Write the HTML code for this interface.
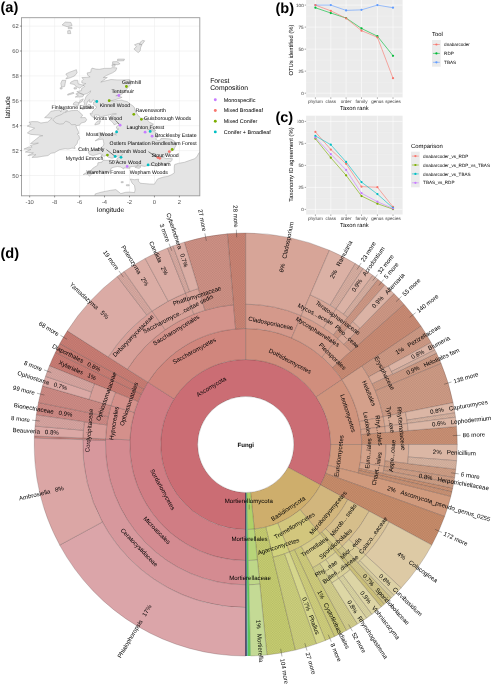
<!DOCTYPE html>
<html lang="en"><head><meta charset="utf-8"><title>Figure</title>
<style>html,body{margin:0;padding:0;background:#fff}svg{display:block}text{white-space:pre;text-rendering:geometricPrecision}</style></head><body>
<svg width="493" height="685" viewBox="0 0 493 685">
<defs><pattern id="hat" width="2.4" height="2.4" patternUnits="userSpaceOnUse"><path d="M-.6 .6L.6 -.6M0 2.4L2.4 0M1.8 3L3 1.8M-.6 1.8L.6 3M0 0L2.4 2.4M1.8 -.6L3 .6" stroke="#000" stroke-opacity=".15" stroke-width=".32"/></pattern></defs>
<rect width="493" height="685" fill="#fff"/>
<g id="map">
<clipPath id="mc"><rect x="21.5" y="17.7" width="178.3" height="178.1"/></clipPath>
<rect x="21.5" y="17.7" width="178.3" height="178.1" fill="#fff"/>
<path d="M21.5 175.50H199.8M21.5 150.60H199.8M21.5 125.70H199.8M21.5 100.80H199.8M21.5 75.90H199.8M21.5 51.00H199.8M21.5 26.10H199.8M29.65 17.7V195.8M54.61 17.7V195.8M79.57 17.7V195.8M104.53 17.7V195.8M129.49 17.7V195.8M154.45 17.7V195.8M179.41 17.7V195.8" stroke="#ebebeb" stroke-width=".55" fill="none"/>
<path clip-path="url(#mc)" d="M83.2 174.6L86.1 172.8L91.1 170.3L92.8 168.3L97.7 165.2L97.9 162.8L102.0 162.1L103.0 160.4L111.1 160.3L116.4 160.6L117.3 158.3L120.8 156.2L122.6 154.6L120.1 155.8L117.0 156.3L114.9 157.3L112.0 158.3L108.3 157.2L106.4 155.3L104.5 156.1L100.8 156.1L102.5 154.6L99.5 153.7L95.8 154.8L92.9 155.6L89.3 154.3L88.3 151.8L92.3 150.4L96.3 149.1L100.8 147.9L103.5 145.5L103.9 143.8L103.5 141.6L103.2 139.9L102.9 139.1L99.3 139.6L95.2 140.8L98.0 138.9L100.3 137.2L99.5 136.3L96.4 134.3L97.4 133.2L100.4 132.9L103.9 134.3L103.0 135.3L106.3 133.9L108.3 134.5L110.9 134.2L113.0 133.8L116.4 135.0L114.5 133.2L117.0 132.9L115.8 131.3L117.0 129.7L118.9 129.1L116.4 128.2L116.6 126.6L119.3 124.5L117.6 123.5L114.0 124.7L113.3 123.2L111.4 121.3L109.1 119.4L109.9 117.5L112.0 114.9L116.4 113.9L113.8 113.5L109.5 114.9L103.9 116.0L99.7 117.2L98.9 115.1L94.5 115.0L93.8 117.9L90.6 115.2L90.1 113.2L92.0 114.1L92.0 112.0L93.8 110.3L96.5 107.5L95.8 106.0L93.3 104.5L93.7 102.0L97.0 101.5L94.3 100.8L93.3 99.6L92.0 101.4L91.4 102.4L88.9 101.8L89.6 99.6L87.7 101.0L86.9 103.3L85.8 106.4L85.2 108.5L82.3 109.5L82.9 107.0L84.6 103.9L83.9 101.7L85.1 99.3L85.8 97.1L87.1 95.2L89.6 93.3L90.8 90.8L87.1 93.6L83.3 94.6L79.6 93.1L76.8 91.7L81.4 90.6L81.7 88.4L84.6 86.5L83.2 84.9L85.8 83.6L81.9 83.0L81.8 80.9L83.4 79.3L81.9 77.6L86.4 77.4L90.1 76.9L87.7 75.3L87.1 72.9L90.8 72.2L91.1 69.7L92.0 68.1L95.8 69.1L99.3 69.3L104.3 68.4L110.5 68.3L112.4 67.6L116.8 67.9L115.8 70.7L112.6 72.8L106.4 75.5L103.3 77.5L107.3 77.5L103.9 79.9L100.8 82.1L104.5 81.1L110.9 79.5L117.0 79.9L123.0 79.9L129.5 79.6L132.0 81.5L131.4 84.0L128.6 86.6L127.0 88.8L123.9 92.0L122.3 93.8L120.3 94.9L115.8 95.8L118.5 95.3L119.6 96.6L122.1 97.3L119.3 98.4L115.1 99.7L112.0 100.6L108.0 100.2L112.0 100.9L114.9 101.0L118.3 100.4L121.8 100.1L123.9 100.9L127.7 101.8L129.5 103.7L132.0 105.2L134.2 107.0L134.7 109.5L135.7 111.6L136.7 113.2L137.9 115.1L139.7 117.1L140.5 117.9L144.5 118.7L146.8 119.6L149.5 122.2L153.5 124.2L151.8 125.1L152.5 127.6L155.9 130.7L153.8 130.3L151.0 129.1L147.6 129.4L152.0 130.4L154.4 131.6L157.7 133.9L158.7 136.4L155.7 138.8L157.2 140.4L159.7 140.4L160.9 138.6L165.1 138.5L170.7 139.0L174.7 141.3L176.2 143.1L176.4 144.7L174.8 147.5L174.2 149.6L171.3 151.1L169.4 151.2L170.5 152.5L168.4 153.3L165.7 153.6L166.3 155.3L163.8 156.5L160.1 157.1L156.9 157.1L160.1 157.4L163.4 157.4L166.3 158.6L171.7 158.2L172.4 158.7L171.7 160.6L171.0 161.6L168.2 162.2L166.6 164.2L163.8 163.9L160.7 165.0L157.4 166.3L152.7 165.3L148.2 165.5L144.6 166.4L140.8 165.7L137.6 164.5L138.2 165.5L135.2 166.2L132.6 166.5L129.7 166.8L130.1 168.2L128.7 168.3L123.9 167.8L123.7 169.0L120.8 167.0L117.6 166.5L113.9 167.2L111.4 168.0L110.5 170.0L109.8 171.4L109.0 172.8L106.4 172.8L102.8 171.1L98.3 171.4L94.8 172.4L91.7 174.0L89.6 176.0L87.7 174.5L85.4 174.1ZM134.9 167.2L138.2 165.9L141.0 166.8L139.7 168.0L138.2 168.3ZM62.5 108.5L67.7 110.4L64.6 112.5L68.3 111.3L71.5 110.6L77.7 110.4L79.8 112.6L82.7 115.1L80.8 117.7L85.2 117.5L86.7 119.8L85.2 122.0L81.1 123.0L79.6 125.2L75.8 125.7L76.8 128.2L78.3 131.3L78.8 133.4L77.1 134.0L78.9 135.7L79.6 138.6L77.8 140.8L77.1 143.6L74.6 146.5L75.1 148.5L72.1 148.1L68.0 149.1L65.2 148.7L59.6 149.7L56.5 151.5L54.6 152.7L50.9 153.3L48.0 155.6L42.8 156.3L37.5 157.2L31.9 157.4L35.9 154.6L27.8 155.6L33.4 152.8L25.3 152.1L30.9 149.4L23.9 149.1L28.4 147.1L32.1 147.2L30.4 145.5L38.4 143.1L30.5 143.6L36.3 139.0L39.6 136.3L42.8 135.7L38.4 135.0L30.9 134.4L27.4 132.9L30.3 130.7L34.6 128.2L27.2 126.1L30.9 124.2L29.0 122.2L32.1 121.6L37.8 121.7L40.9 123.0L47.7 122.0L52.1 118.2L44.6 117.6L47.7 115.1L50.9 111.3L55.2 110.5L59.6 109.9L60.8 112.0L61.5 109.5ZM94.8 125.0L99.5 123.8L100.5 120.7L97.7 121.0L95.5 123.2ZM87.7 107.6L90.8 107.6L90.8 105.2L88.9 104.3L87.3 105.5ZM73.3 104.8L78.3 105.5L78.9 102.7L75.8 101.7L73.6 103.0ZM78.9 103.3L82.1 101.4L83.3 98.9L80.2 100.2ZM75.2 97.1L82.7 96.8L83.9 94.8L78.9 92.7L75.8 94.0L78.3 95.2ZM79.6 88.1L83.9 85.2L78.3 84.0L77.7 80.3L74.6 80.3L70.8 82.1L70.2 83.6L74.6 84.6L75.8 86.5ZM65.8 79.0L70.2 77.8L74.6 75.9L77.1 72.8L76.4 69.7L69.6 72.2L65.8 74.0L67.7 76.5ZM61.5 87.1L64.6 86.5L65.2 83.4L65.8 80.3L62.1 80.3L60.8 83.4ZM60.2 89.0L62.1 89.0L62.1 87.7L60.2 87.7ZM74.0 89.0L76.4 89.0L76.4 87.7L74.0 87.7ZM67.7 95.2L74.0 93.3L73.3 92.3L67.7 94.2ZM112.6 64.1L117.6 64.7L120.1 63.8L117.0 61.6L112.6 61.8ZM112.0 66.2L115.1 66.2L115.1 64.4L112.0 64.7ZM117.6 61.0L123.9 60.7L124.5 59.1L117.6 59.1ZM133.9 49.1L138.2 52.6L140.1 51.0L140.7 47.3L142.0 44.8L138.2 43.3L134.5 44.8L136.4 46.6ZM139.5 44.8L142.0 44.5L144.7 40.8L142.6 40.4L140.1 42.3ZM62.1 24.9L67.1 26.7L72.1 25.5L70.8 22.4L65.2 22.1ZM67.7 33.6L70.8 33.6L70.2 30.5L67.7 30.8ZM68.3 28.8L72.1 28.6L71.8 27.3L68.3 27.3ZM126.4 185.8L129.2 185.8L129.2 184.7L126.4 184.7ZM121.1 182.7L123.2 182.7L123.2 181.6L121.1 181.7ZM89.6 200.4L94.8 196.0L95.2 193.9L100.8 192.3L105.2 191.4L110.1 190.4L115.8 189.6L120.8 193.6L125.7 192.3L129.5 192.1L134.5 192.6L135.1 189.8L134.5 185.5L132.0 183.0L130.2 179.0L134.5 179.7L138.7 179.2L138.2 181.1L140.7 183.3L149.5 184.0L154.4 184.2L155.7 182.0L157.6 179.0L163.2 177.1L167.9 176.4L171.9 174.5L174.4 172.8L174.2 168.7L174.4 165.8L174.7 164.5L178.2 163.4L184.4 162.3L190.6 160.1L194.4 158.8L196.9 156.8L198.8 153.1L201.2 150.6L206.9 148.1L206.9 206.6L89.6 206.6Z" fill="#e4e4e4" stroke="#9a9a9a" stroke-width=".45" stroke-linejoin="round"/>
<path clip-path="url(#mc)" d="M64.0 112.6L61.5 114.5L55.9 116.7L52.7 119.8L55.9 123.0L59.6 124.1L63.3 123.8L65.8 121.0L69.6 122.6L71.5 124.8L75.8 124.5" fill="none" stroke="#9a9a9a" stroke-width=".45" stroke-linejoin="round"/>
<line x1="115.5" y1="120.4" x2="119.9" y2="124.8" stroke="#111" stroke-width=".5"/>
<line x1="106.4" y1="149.6" x2="114.8" y2="156.1" stroke="#111" stroke-width=".5"/>
<line x1="148.4" y1="151.7" x2="157.2" y2="157.3" stroke="#111" stroke-width=".5"/>
<circle cx="126.4" cy="86.5" r="1.4" fill="#7CAE00"/>
<circle cx="118.8" cy="95.5" r="1.4" fill="#C77CFF"/>
<circle cx="96.8" cy="101.5" r="1.4" fill="#00BFC4"/>
<circle cx="109.2" cy="100.7" r="1.4" fill="#7CAE00"/>
<circle cx="133.8" cy="114.3" r="1.4" fill="#7CAE00"/>
<circle cx="141.4" cy="119.3" r="1.4" fill="#7CAE00"/>
<circle cx="120.1" cy="125.2" r="1.4" fill="#C77CFF"/>
<circle cx="116.6" cy="131.9" r="1.4" fill="#00BFC4"/>
<circle cx="145.1" cy="132.2" r="1.4" fill="#C77CFF"/>
<circle cx="150.2" cy="131.4" r="1.4" fill="#00BFC4"/>
<circle cx="152.1" cy="136.2" r="1.4" fill="#C77CFF"/>
<circle cx="172.2" cy="149.5" r="1.4" fill="#7CAE00"/>
<circle cx="169.3" cy="151.6" r="1.4" fill="#F8766D"/>
<circle cx="157.9" cy="157.6" r="1.4" fill="#F8766D"/>
<circle cx="159.8" cy="158.3" r="1.4" fill="#F8766D"/>
<circle cx="107.4" cy="155.1" r="1.4" fill="#7CAE00"/>
<circle cx="115.2" cy="156.4" r="1.4" fill="#00BFC4"/>
<circle cx="121.0" cy="157.3" r="1.4" fill="#00BFC4"/>
<circle cx="148.1" cy="164.9" r="1.4" fill="#00BFC4"/>
<circle cx="127.2" cy="166.4" r="1.4" fill="#C77CFF"/>
<g font-family="'Liberation Sans',Arial,sans-serif" font-size="5.2" fill="#000">
<text x="122.0" y="82.4" dy=".35em">Gairnhill</text>
<text x="111.4" y="91.6" dy=".35em">Tentsmuir</text>
<text x="99.7" y="105.5" dy=".35em">Kinnell Wood</text>
<text x="51.5" y="106.8" dy=".35em">Finlaystone Estate</text>
<text x="135.6" y="109.8" dy=".35em">Ravensworth</text>
<text x="144.0" y="118.3" dy=".35em">Guisborough Woods</text>
<text x="93.9" y="118.2" dy=".35em">Knots Wood</text>
<text x="126.5" y="127.0" dy=".35em">Laughton Forest</text>
<text x="155.0" y="135.1" dy=".35em">Brocklesby Estate</text>
<text x="86.0" y="134.2" dy=".35em">Moss Wood</text>
<text x="109.6" y="143.1" dy=".35em">Ostlers Plantation</text>
<text x="151.4" y="143.1" dy=".35em">Rendlesham Forest</text>
<text x="78.2" y="149.6" dy=".35em">Cefn Mably</text>
<text x="112.8" y="151.5" dy=".35em">Darenth Wood</text>
<text x="151.4" y="155.4" dy=".35em">Stour Wood</text>
<text x="65.8" y="158.0" dy=".35em">Mynydd Emroch</text>
<text x="108.9" y="161.8" dy=".35em">50 Acre Wood</text>
<text x="151.0" y="163.8" dy=".35em">Cobham</text>
<text x="86.5" y="172.0" dy=".35em">Wareham Forest</text>
<text x="129.8" y="172.2" dy=".35em">Wepham Woods</text>
</g>
<rect x="21.5" y="17.7" width="178.3" height="178.1" fill="none" stroke="#999" stroke-width=".9"/>
<path d="M21.5 175.50h-1.6M21.5 150.60h-1.6M21.5 125.70h-1.6M21.5 100.80h-1.6M21.5 75.90h-1.6M21.5 51.00h-1.6M21.5 26.10h-1.6M29.65 195.8v1.6M54.61 195.8v1.6M79.57 195.8v1.6M104.53 195.8v1.6M129.49 195.8v1.6M154.45 195.8v1.6M179.41 195.8v1.6" stroke="#333" stroke-width=".5" fill="none"/>
<g font-family="'Liberation Sans',Arial,sans-serif" font-size="5.8" fill="#4d4d4d">
<text x="18.8" y="175.60" text-anchor="end" dy=".35em">50</text>
<text x="18.8" y="150.70" text-anchor="end" dy=".35em">52</text>
<text x="18.8" y="125.80" text-anchor="end" dy=".35em">54</text>
<text x="18.8" y="100.90" text-anchor="end" dy=".35em">56</text>
<text x="18.8" y="76.00" text-anchor="end" dy=".35em">58</text>
<text x="18.8" y="51.10" text-anchor="end" dy=".35em">60</text>
<text x="18.8" y="26.20" text-anchor="end" dy=".35em">62</text>
<text x="29.65" y="201.7" text-anchor="middle" dy=".35em">-10</text>
<text x="54.61" y="201.7" text-anchor="middle" dy=".35em">-8</text>
<text x="79.57" y="201.7" text-anchor="middle" dy=".35em">-6</text>
<text x="104.53" y="201.7" text-anchor="middle" dy=".35em">-4</text>
<text x="129.49" y="201.7" text-anchor="middle" dy=".35em">-2</text>
<text x="154.45" y="201.7" text-anchor="middle" dy=".35em">0</text>
<text x="179.41" y="201.7" text-anchor="middle" dy=".35em">2</text>
</g>
<g font-family="'Liberation Sans',Arial,sans-serif" fill="#000">
<text x="110.6" y="209.2" text-anchor="middle" font-size="6.7" dy=".35em">longitude</text>
<text transform="translate(7.5 107.3) rotate(-90)" text-anchor="middle" font-size="6.85" dy=".35em">latitude</text>
<text x="210.2" y="80.6" font-size="6.8" dy=".35em">Forest</text>
<text x="210.2" y="87.9" font-size="6.8" dy=".35em">Composition</text>
<circle cx="215.3" cy="99.8" r="1.45" fill="#C77CFF"/>
<text x="223.8" y="99.8" font-size="5.45" dy=".35em">Monospecific</text>
<circle cx="215.3" cy="110.5" r="1.45" fill="#F8766D"/>
<text x="223.8" y="110.5" font-size="5.45" dy=".35em">Mixed Broadleaf</text>
<circle cx="215.3" cy="121.2" r="1.45" fill="#7CAE00"/>
<text x="223.8" y="121.2" font-size="5.45" dy=".35em">Mixed Conifer</text>
<circle cx="215.3" cy="131.9" r="1.45" fill="#00BFC4"/>
<text x="223.8" y="131.9" font-size="5.45" dy=".35em">Conifer + Broadleaf</text>
</g></g>
<g id="charts">
<rect x="306.1" y="0.0" width="96.5" height="97.4" fill="#ebebeb"/>
<path d="M306.1 93.20H402.6M306.1 71.17H402.6M306.1 49.15H402.6M306.1 27.12H402.6M306.1 5.10H402.6M315.40 0.0V97.4M330.80 0.0V97.4M346.10 0.0V97.4M361.50 0.0V97.4M377.40 0.0V97.4M393.00 0.0V97.4" stroke="#fff" stroke-width=".55" fill="none"/>
<path d="M306.1 82.19H402.6M306.1 60.16H402.6M306.1 38.14H402.6M306.1 16.11H402.6" stroke="#f5f5f5" stroke-width=".3" fill="none"/>
<polyline points="315.40,5.10 330.80,5.10 346.10,10.39 361.50,9.86 377.40,5.10 393.00,7.74" fill="none" stroke="#619CFF" stroke-width=".62" stroke-linejoin="round"/>
<polyline points="315.40,7.74 330.80,13.03 346.10,18.05 361.50,28.45 377.40,36.20 393.00,55.76" fill="none" stroke="#00BA38" stroke-width=".62" stroke-linejoin="round"/>
<polyline points="315.40,5.10 330.80,10.83 346.10,18.31 361.50,30.65 377.40,37.26 393.00,78.22" fill="none" stroke="#F8766D" stroke-width=".62" stroke-linejoin="round"/>
<circle cx="315.40" cy="5.10" r="1.12" fill="#619CFF"/>
<circle cx="330.80" cy="5.10" r="1.12" fill="#619CFF"/>
<circle cx="346.10" cy="10.39" r="1.12" fill="#619CFF"/>
<circle cx="361.50" cy="9.86" r="1.12" fill="#619CFF"/>
<circle cx="377.40" cy="5.10" r="1.12" fill="#619CFF"/>
<circle cx="393.00" cy="7.74" r="1.12" fill="#619CFF"/>
<circle cx="315.40" cy="7.74" r="1.12" fill="#00BA38"/>
<circle cx="330.80" cy="13.03" r="1.12" fill="#00BA38"/>
<circle cx="346.10" cy="18.05" r="1.12" fill="#00BA38"/>
<circle cx="361.50" cy="28.45" r="1.12" fill="#00BA38"/>
<circle cx="377.40" cy="36.20" r="1.12" fill="#00BA38"/>
<circle cx="393.00" cy="55.76" r="1.12" fill="#00BA38"/>
<circle cx="315.40" cy="5.10" r="1.12" fill="#F8766D"/>
<circle cx="330.80" cy="10.83" r="1.12" fill="#F8766D"/>
<circle cx="346.10" cy="18.31" r="1.12" fill="#F8766D"/>
<circle cx="361.50" cy="30.65" r="1.12" fill="#F8766D"/>
<circle cx="377.40" cy="37.26" r="1.12" fill="#F8766D"/>
<circle cx="393.00" cy="78.22" r="1.12" fill="#F8766D"/>
<path d="M306.1 93.20h-1.4M306.1 71.17h-1.4M306.1 49.15h-1.4M306.1 27.12h-1.4M306.1 5.10h-1.4M315.40 97.4v1.4M330.80 97.4v1.4M346.10 97.4v1.4M361.50 97.4v1.4M377.40 97.4v1.4M393.00 97.4v1.4" stroke="#333" stroke-width=".45" fill="none"/>
<g font-family="'Liberation Sans',Arial,sans-serif" font-size="4.6" fill="#3d3d3d">
<text x="303.7" y="93.20" text-anchor="end" dy=".35em">0</text>
<text x="303.7" y="71.17" text-anchor="end" dy=".35em">25</text>
<text x="303.7" y="49.15" text-anchor="end" dy=".35em">50</text>
<text x="303.7" y="27.12" text-anchor="end" dy=".35em">75</text>
<text x="303.7" y="5.10" text-anchor="end" dy=".35em">100</text>
<text x="315.40" y="101.8" text-anchor="middle" dy=".35em">phylum</text>
<text x="330.80" y="101.8" text-anchor="middle" dy=".35em">class</text>
<text x="346.10" y="101.8" text-anchor="middle" dy=".35em">order</text>
<text x="361.50" y="101.8" text-anchor="middle" dy=".35em">family</text>
<text x="377.40" y="101.8" text-anchor="middle" dy=".35em">genus</text>
<text x="393.00" y="101.8" text-anchor="middle" dy=".35em">species</text>
</g>
<g font-family="'Liberation Sans',Arial,sans-serif" font-size="5.85" fill="#000">
<text x="354.4" y="108.3" text-anchor="middle" dy=".35em">Taxon rank</text>
<text transform="translate(291 50.0) rotate(-90)" text-anchor="middle" dy=".35em">OTUs identified (%)</text>
</g>
<g font-family="'Liberation Sans',Arial,sans-serif" fill="#000">
<text x="432.0" y="34.1" font-size="5.9" dy=".35em">Tool</text>
<rect x="432.0" y="40.0" width="8.7" height="26.7" fill="#ebebeb"/>
<line x1="432.9" y1="44.5" x2="439.8" y2="44.5" stroke="#F8766D" stroke-width=".6"/>
<circle cx="436.4" cy="44.5" r="1.12" fill="#F8766D"/>
<text x="444.1" y="44.5" font-size="4.6" dy=".35em">dnabarcoder</text>
<line x1="432.9" y1="53.4" x2="439.8" y2="53.4" stroke="#00BA38" stroke-width=".6"/>
<circle cx="436.4" cy="53.4" r="1.12" fill="#00BA38"/>
<text x="444.1" y="53.4" font-size="4.6" dy=".35em">RDP</text>
<line x1="432.9" y1="62.3" x2="439.8" y2="62.3" stroke="#619CFF" stroke-width=".6"/>
<circle cx="436.4" cy="62.3" r="1.12" fill="#619CFF"/>
<text x="444.1" y="62.3" font-size="4.6" dy=".35em">TBAS</text>
</g>
<rect x="306.1" y="115.7" width="96.5" height="98.8" fill="#ebebeb"/>
<path d="M306.1 209.40H402.6M306.1 187.40H402.6M306.1 165.40H402.6M306.1 143.40H402.6M306.1 121.40H402.6M315.40 115.7V214.5M330.80 115.7V214.5M346.10 115.7V214.5M361.50 115.7V214.5M377.40 115.7V214.5M393.00 115.7V214.5" stroke="#fff" stroke-width=".55" fill="none"/>
<path d="M306.1 198.40H402.6M306.1 176.40H402.6M306.1 154.40H402.6M306.1 132.40H402.6" stroke="#f5f5f5" stroke-width=".3" fill="none"/>
<polyline points="315.40,131.96 330.80,149.56 346.10,163.82 361.50,186.70 377.40,187.22 393.00,206.94" fill="none" stroke="#F8766D" stroke-width=".62" stroke-linejoin="round"/>
<polyline points="315.40,138.74 330.80,157.74 346.10,175.34 361.50,196.02 377.40,203.68 393.00,209.14" fill="none" stroke="#7CAE00" stroke-width=".62" stroke-linejoin="round"/>
<polyline points="315.40,135.92 330.80,144.72 346.10,161.97 361.50,182.12 377.40,194.09 393.00,207.99" fill="none" stroke="#00BFC4" stroke-width=".62" stroke-linejoin="round"/>
<polyline points="315.40,137.59 330.80,154.05 346.10,169.98 361.50,193.21 377.40,201.74 393.00,208.52" fill="none" stroke="#C77CFF" stroke-width=".62" stroke-linejoin="round"/>
<circle cx="315.40" cy="131.96" r="1.12" fill="#F8766D"/>
<circle cx="330.80" cy="149.56" r="1.12" fill="#F8766D"/>
<circle cx="346.10" cy="163.82" r="1.12" fill="#F8766D"/>
<circle cx="361.50" cy="186.70" r="1.12" fill="#F8766D"/>
<circle cx="377.40" cy="187.22" r="1.12" fill="#F8766D"/>
<circle cx="393.00" cy="206.94" r="1.12" fill="#F8766D"/>
<circle cx="315.40" cy="138.74" r="1.12" fill="#7CAE00"/>
<circle cx="330.80" cy="157.74" r="1.12" fill="#7CAE00"/>
<circle cx="346.10" cy="175.34" r="1.12" fill="#7CAE00"/>
<circle cx="361.50" cy="196.02" r="1.12" fill="#7CAE00"/>
<circle cx="377.40" cy="203.68" r="1.12" fill="#7CAE00"/>
<circle cx="393.00" cy="209.14" r="1.12" fill="#7CAE00"/>
<circle cx="315.40" cy="135.92" r="1.12" fill="#00BFC4"/>
<circle cx="330.80" cy="144.72" r="1.12" fill="#00BFC4"/>
<circle cx="346.10" cy="161.97" r="1.12" fill="#00BFC4"/>
<circle cx="361.50" cy="182.12" r="1.12" fill="#00BFC4"/>
<circle cx="377.40" cy="194.09" r="1.12" fill="#00BFC4"/>
<circle cx="393.00" cy="207.99" r="1.12" fill="#00BFC4"/>
<circle cx="315.40" cy="137.59" r="1.12" fill="#C77CFF"/>
<circle cx="330.80" cy="154.05" r="1.12" fill="#C77CFF"/>
<circle cx="346.10" cy="169.98" r="1.12" fill="#C77CFF"/>
<circle cx="361.50" cy="193.21" r="1.12" fill="#C77CFF"/>
<circle cx="377.40" cy="201.74" r="1.12" fill="#C77CFF"/>
<circle cx="393.00" cy="208.52" r="1.12" fill="#C77CFF"/>
<path d="M306.1 209.40h-1.4M306.1 187.40h-1.4M306.1 165.40h-1.4M306.1 143.40h-1.4M306.1 121.40h-1.4M315.40 214.5v1.4M330.80 214.5v1.4M346.10 214.5v1.4M361.50 214.5v1.4M377.40 214.5v1.4M393.00 214.5v1.4" stroke="#333" stroke-width=".45" fill="none"/>
<g font-family="'Liberation Sans',Arial,sans-serif" font-size="4.6" fill="#3d3d3d">
<text x="303.7" y="209.40" text-anchor="end" dy=".35em">0</text>
<text x="303.7" y="187.40" text-anchor="end" dy=".35em">25</text>
<text x="303.7" y="165.40" text-anchor="end" dy=".35em">50</text>
<text x="303.7" y="143.40" text-anchor="end" dy=".35em">75</text>
<text x="303.7" y="121.40" text-anchor="end" dy=".35em">100</text>
<text x="315.40" y="218.0" text-anchor="middle" dy=".35em">phylum</text>
<text x="330.80" y="218.0" text-anchor="middle" dy=".35em">class</text>
<text x="346.10" y="218.0" text-anchor="middle" dy=".35em">order</text>
<text x="361.50" y="218.0" text-anchor="middle" dy=".35em">family</text>
<text x="377.40" y="218.0" text-anchor="middle" dy=".35em">genus</text>
<text x="393.00" y="218.0" text-anchor="middle" dy=".35em">species</text>
</g>
<g font-family="'Liberation Sans',Arial,sans-serif" font-size="5.85" fill="#000">
<text x="354.4" y="224.6" text-anchor="middle" dy=".35em">Taxon rank</text>
<text transform="translate(291 164.5) rotate(-90)" text-anchor="middle" dy=".35em">Taxonomy ID agreement (%)</text>
</g>
<g font-family="'Liberation Sans',Arial,sans-serif" fill="#000">
<text x="411.0" y="146.1" font-size="5.9" dy=".35em">Comparison</text>
<rect x="411.0" y="151.7" width="8.7" height="35.6" fill="#ebebeb"/>
<line x1="411.9" y1="156.1" x2="418.8" y2="156.1" stroke="#F8766D" stroke-width=".6"/>
<circle cx="415.4" cy="156.1" r="1.12" fill="#F8766D"/>
<text x="423.1" y="156.1" font-size="4.6" dy=".35em">dnabarcoder_vs_RDP</text>
<line x1="411.9" y1="165.0" x2="418.8" y2="165.0" stroke="#7CAE00" stroke-width=".6"/>
<circle cx="415.4" cy="165.0" r="1.12" fill="#7CAE00"/>
<text x="423.1" y="165.0" font-size="4.6" dy=".35em">dnabarcoder_vs_RDP_vs_TBAS</text>
<line x1="411.9" y1="173.9" x2="418.8" y2="173.9" stroke="#00BFC4" stroke-width=".6"/>
<circle cx="415.4" cy="173.9" r="1.12" fill="#00BFC4"/>
<text x="423.1" y="173.9" font-size="4.6" dy=".35em">dnabarcoder_vs_TBAS</text>
<line x1="411.9" y1="182.8" x2="418.8" y2="182.8" stroke="#C77CFF" stroke-width=".6"/>
<circle cx="415.4" cy="182.8" r="1.12" fill="#C77CFF"/>
<text x="423.1" y="182.8" font-size="4.6" dy=".35em">TBAS_vs_RDP</text>
</g>
</g>
<g id="krona">
<path d="M245.75 492.50L245.75 529.50A85.00 85.00 0 1 1 320.52 484.93L287.97 467.33A48.00 48.00 0 1 0 245.75 492.50Z" fill="#cb6d74" stroke="#3a2a2a" stroke-opacity=".7" stroke-width=".3"/>
<path d="M287.97 467.33L320.52 484.93A85.00 85.00 0 0 1 254.27 529.07L250.56 492.26A48.00 48.00 0 0 0 287.97 467.33Z" fill="#ceae6c" stroke="#3a2a2a" stroke-opacity=".7" stroke-width=".3"/>
<path d="M250.56 492.26L254.27 529.07A85.00 85.00 0 0 1 247.68 529.48L246.84 492.49A48.00 48.00 0 0 0 250.56 492.26Z" fill="#afd068" stroke="#3a2a2a" stroke-opacity=".7" stroke-width=".3"/>
<path d="M245.75 529.50L245.75 560.50A116.00 116.00 0 0 1 147.92 382.17L174.06 398.83A85.00 85.00 0 0 0 245.75 529.50Z" fill="#d07d84" stroke="#3a2a2a" stroke-opacity=".7" stroke-width=".3"/>
<path d="M174.06 398.83L147.92 382.17A116.00 116.00 0 0 1 245.75 328.50L245.75 359.50A85.00 85.00 0 0 0 174.06 398.83Z" fill="#d0867d" stroke="#3a2a2a" stroke-opacity=".7" stroke-width=".3"/>
<path d="M245.75 359.50L245.75 328.50A116.00 116.00 0 0 1 341.92 379.63L316.22 396.97A85.00 85.00 0 0 0 245.75 359.50Z" fill="#d08e7d" stroke="#3a2a2a" stroke-opacity=".7" stroke-width=".3"/>
<path d="M316.22 396.97L341.92 379.63A116.00 116.00 0 0 1 361.75 444.50L330.75 444.50A85.00 85.00 0 0 0 316.22 396.97Z" fill="#d0947d" stroke="#3a2a2a" stroke-opacity=".7" stroke-width=".3"/>
<path d="M330.75 444.50L361.75 444.50A116.00 116.00 0 0 1 358.21 472.96L328.15 465.35A85.00 85.00 0 0 0 330.75 444.50Z" fill="#d0997d" stroke="#3a2a2a" stroke-opacity=".7" stroke-width=".3"/>
<path d="M328.15 465.35L450.79 496.38A211.50 211.50 0 0 1 444.62 516.49L325.67 473.43A85.00 85.00 0 0 0 328.15 465.35Z" fill="#d09a7d" stroke="#3a2a2a" stroke-opacity=".7" stroke-width=".3"/>
<path d="M325.67 473.43L444.62 516.49A211.50 211.50 0 0 1 431.80 545.09L320.52 484.93A85.00 85.00 0 0 0 325.67 473.43Z" fill="#c98d6b" stroke="#3a2a2a" stroke-opacity=".7" stroke-width=".3"/>
<path d="M325.67 473.43L444.62 516.49A211.50 211.50 0 0 1 431.80 545.09L320.52 484.93A85.00 85.00 0 0 0 325.67 473.43Z" fill="url(#hat)"/>
<path d="M320.52 484.93L347.79 499.67A116.00 116.00 0 0 1 320.00 533.62L300.16 509.80A85.00 85.00 0 0 0 320.52 484.93Z" fill="#d2b67d" stroke="#3a2a2a" stroke-opacity=".7" stroke-width=".3"/>
<path d="M300.16 509.80L320.00 533.62A116.00 116.00 0 0 1 289.39 551.98L277.73 523.25A85.00 85.00 0 0 0 300.16 509.80Z" fill="#d2c67d" stroke="#3a2a2a" stroke-opacity=".7" stroke-width=".3"/>
<path d="M277.73 523.25L289.39 551.98A116.00 116.00 0 0 1 273.03 557.25L265.74 527.12A85.00 85.00 0 0 0 277.73 523.25Z" fill="#d1d27d" stroke="#3a2a2a" stroke-opacity=".7" stroke-width=".3"/>
<path d="M265.74 527.12L295.48 650.07A211.50 211.50 0 0 1 266.94 654.94L254.27 529.07A85.00 85.00 0 0 0 265.74 527.12Z" fill="#c7ce71" stroke="#3a2a2a" stroke-opacity=".7" stroke-width=".3"/>
<path d="M265.74 527.12L295.48 650.07A211.50 211.50 0 0 1 266.94 654.94L254.27 529.07A85.00 85.00 0 0 0 265.74 527.12Z" fill="url(#hat)"/>
<path d="M254.27 529.07L257.37 559.92A116.00 116.00 0 0 1 248.38 560.47L247.68 529.48A85.00 85.00 0 0 0 254.27 529.07Z" fill="#b7d479" stroke="#3a2a2a" stroke-opacity=".7" stroke-width=".3"/>
<path d="M245.75 560.50L245.75 584.80A140.30 140.30 0 0 1 105.56 438.87L129.84 439.84A116.00 116.00 0 0 0 245.75 560.50Z" fill="#d48b91" stroke="#3a2a2a" stroke-opacity=".7" stroke-width=".3"/>
<path d="M129.84 439.84L105.56 438.87A140.30 140.30 0 0 1 110.95 405.59L134.30 412.33A116.00 116.00 0 0 0 129.84 439.84Z" fill="#d4908b" stroke="#3a2a2a" stroke-opacity=".7" stroke-width=".3"/>
<path d="M134.30 412.33L110.95 405.59A140.30 140.30 0 0 1 115.48 392.40L138.05 401.42A116.00 116.00 0 0 0 134.30 412.33Z" fill="#d4918b" stroke="#3a2a2a" stroke-opacity=".7" stroke-width=".3"/>
<path d="M138.05 401.42L49.38 365.96A211.50 211.50 0 0 1 55.33 352.45L141.31 394.01A116.00 116.00 0 0 0 138.05 401.42Z" fill="#cb7d75" stroke="#3a2a2a" stroke-opacity=".7" stroke-width=".3"/>
<path d="M138.05 401.42L49.38 365.96A211.50 211.50 0 0 1 55.33 352.45L141.31 394.01A116.00 116.00 0 0 0 138.05 401.42Z" fill="url(#hat)"/>
<path d="M141.31 394.01L55.33 352.45A211.50 211.50 0 0 1 59.88 343.58L143.81 389.15A116.00 116.00 0 0 0 141.31 394.01Z" fill="#cb7e75" stroke="#3a2a2a" stroke-opacity=".7" stroke-width=".3"/>
<path d="M141.31 394.01L55.33 352.45A211.50 211.50 0 0 1 59.88 343.58L143.81 389.15A116.00 116.00 0 0 0 141.31 394.01Z" fill="url(#hat)"/>
<path d="M143.81 389.15L59.88 343.58A211.50 211.50 0 0 1 67.37 330.86L147.92 382.17A116.00 116.00 0 0 0 143.81 389.15Z" fill="#cb7e75" stroke="#3a2a2a" stroke-opacity=".7" stroke-width=".3"/>
<path d="M143.81 389.15L59.88 343.58A211.50 211.50 0 0 1 67.37 330.86L147.92 382.17A116.00 116.00 0 0 0 143.81 389.15Z" fill="url(#hat)"/>
<path d="M147.92 382.17L127.42 369.12A140.30 140.30 0 0 1 233.52 304.73L235.64 328.94A116.00 116.00 0 0 0 147.92 382.17Z" fill="#d4938b" stroke="#3a2a2a" stroke-opacity=".7" stroke-width=".3"/>
<path d="M235.64 328.94L227.32 233.80A211.50 211.50 0 0 1 245.75 233.00L245.75 328.50A116.00 116.00 0 0 0 235.64 328.94Z" fill="#cb8575" stroke="#3a2a2a" stroke-opacity=".7" stroke-width=".3"/>
<path d="M235.64 328.94L227.32 233.80A211.50 211.50 0 0 1 245.75 233.00L245.75 328.50A116.00 116.00 0 0 0 235.64 328.94Z" fill="url(#hat)"/>
<path d="M245.75 328.50L245.75 304.20A140.30 140.30 0 0 1 301.25 315.64L291.63 337.96A116.00 116.00 0 0 0 245.75 328.50Z" fill="#d4998b" stroke="#3a2a2a" stroke-opacity=".7" stroke-width=".3"/>
<path d="M291.63 337.96L301.25 315.64A140.30 140.30 0 0 1 337.98 338.78L322.01 357.09A116.00 116.00 0 0 0 291.63 337.96Z" fill="#d49c8b" stroke="#3a2a2a" stroke-opacity=".7" stroke-width=".3"/>
<path d="M322.01 357.09L337.98 338.78A140.30 140.30 0 0 1 350.75 351.44L332.56 367.56A116.00 116.00 0 0 0 322.01 357.09Z" fill="#d49e8b" stroke="#3a2a2a" stroke-opacity=".7" stroke-width=".3"/>
<path d="M332.56 367.56L404.03 304.22A211.50 211.50 0 0 1 421.09 326.23L341.92 379.63A116.00 116.00 0 0 0 332.56 367.56Z" fill="#cb8c75" stroke="#3a2a2a" stroke-opacity=".7" stroke-width=".3"/>
<path d="M332.56 367.56L404.03 304.22A211.50 211.50 0 0 1 421.09 326.23L341.92 379.63A116.00 116.00 0 0 0 332.56 367.56Z" fill="url(#hat)"/>
<path d="M341.92 379.63L362.06 366.05A140.30 140.30 0 0 1 383.28 416.77L359.46 421.57A116.00 116.00 0 0 0 341.92 379.63Z" fill="#d4a08b" stroke="#3a2a2a" stroke-opacity=".7" stroke-width=".3"/>
<path d="M359.46 421.57L383.28 416.77A140.30 140.30 0 0 1 384.88 426.43L360.78 429.56A116.00 116.00 0 0 0 359.46 421.57Z" fill="#d4a28b" stroke="#3a2a2a" stroke-opacity=".7" stroke-width=".3"/>
<path d="M360.78 429.56L384.88 426.43A140.30 140.30 0 0 1 385.54 432.52L361.33 434.59A116.00 116.00 0 0 0 360.78 429.56Z" fill="#d4a28b" stroke="#3a2a2a" stroke-opacity=".7" stroke-width=".3"/>
<path d="M361.33 434.59L456.48 426.43A211.50 211.50 0 0 1 457.25 444.50L361.75 444.50A116.00 116.00 0 0 0 361.33 434.59Z" fill="#cb9175" stroke="#3a2a2a" stroke-opacity=".7" stroke-width=".3"/>
<path d="M361.33 434.59L456.48 426.43A211.50 211.50 0 0 1 457.25 444.50L361.75 444.50A116.00 116.00 0 0 0 361.33 434.59Z" fill="url(#hat)"/>
<path d="M361.75 444.50L386.05 444.50A140.30 140.30 0 0 1 384.32 466.45L360.32 462.65A116.00 116.00 0 0 0 361.75 444.50Z" fill="#d4a38b" stroke="#3a2a2a" stroke-opacity=".7" stroke-width=".3"/>
<path d="M360.32 462.65L384.32 466.45A140.30 140.30 0 0 1 383.03 473.43L359.26 468.42A116.00 116.00 0 0 0 360.32 462.65Z" fill="#d4a48b" stroke="#3a2a2a" stroke-opacity=".7" stroke-width=".3"/>
<path d="M359.26 468.42L452.70 488.11A211.50 211.50 0 0 1 451.87 491.90L358.80 470.50A116.00 116.00 0 0 0 359.26 468.42Z" fill="#cb9375" stroke="#3a2a2a" stroke-opacity=".7" stroke-width=".3"/>
<path d="M359.26 468.42L452.70 488.11A211.50 211.50 0 0 1 451.87 491.90L358.80 470.50A116.00 116.00 0 0 0 359.26 468.42Z" fill="url(#hat)"/>
<path d="M358.80 470.50L451.87 491.90A211.50 211.50 0 0 1 450.79 496.38L358.21 472.96A116.00 116.00 0 0 0 358.80 470.50Z" fill="#cb9375" stroke="#3a2a2a" stroke-opacity=".7" stroke-width=".3"/>
<path d="M358.80 470.50L451.87 491.90A211.50 211.50 0 0 1 450.79 496.38L358.21 472.96A116.00 116.00 0 0 0 358.80 470.50Z" fill="url(#hat)"/>
<path d="M347.79 499.67L369.16 511.23A140.30 140.30 0 0 1 342.33 546.27L325.60 528.64A116.00 116.00 0 0 0 347.79 499.67Z" fill="#d6be8b" stroke="#3a2a2a" stroke-opacity=".7" stroke-width=".3"/>
<path d="M325.60 528.64L342.33 546.27A140.30 140.30 0 0 1 337.80 550.39L321.85 532.05A116.00 116.00 0 0 0 325.60 528.64Z" fill="#d6c98b" stroke="#3a2a2a" stroke-opacity=".7" stroke-width=".3"/>
<path d="M321.85 532.05L384.51 604.12A211.50 211.50 0 0 1 381.13 606.99L320.00 533.62A116.00 116.00 0 0 0 321.85 532.05Z" fill="#d1c57d" stroke="#3a2a2a" stroke-opacity=".7" stroke-width=".3"/>
<path d="M321.85 532.05L384.51 604.12A211.50 211.50 0 0 1 381.13 606.99L320.00 533.62A116.00 116.00 0 0 0 321.85 532.05Z" fill="url(#hat)"/>
<path d="M320.00 533.62L335.56 552.29A140.30 140.30 0 0 1 312.70 567.80L301.10 546.44A116.00 116.00 0 0 0 320.00 533.62Z" fill="#d6cc8b" stroke="#3a2a2a" stroke-opacity=".7" stroke-width=".3"/>
<path d="M301.10 546.44L346.67 630.37A211.50 211.50 0 0 1 334.46 636.49L294.41 549.80A116.00 116.00 0 0 0 301.10 546.44Z" fill="#d1ce7d" stroke="#3a2a2a" stroke-opacity=".7" stroke-width=".3"/>
<path d="M301.10 546.44L346.67 630.37A211.50 211.50 0 0 1 334.46 636.49L294.41 549.80A116.00 116.00 0 0 0 301.10 546.44Z" fill="url(#hat)"/>
<path d="M294.41 549.80L334.46 636.49A211.50 211.50 0 0 1 325.32 640.46L289.39 551.98A116.00 116.00 0 0 0 294.41 549.80Z" fill="#d1d07d" stroke="#3a2a2a" stroke-opacity=".7" stroke-width=".3"/>
<path d="M294.41 549.80L334.46 636.49A211.50 211.50 0 0 1 325.32 640.46L289.39 551.98A116.00 116.00 0 0 0 294.41 549.80Z" fill="url(#hat)"/>
<path d="M289.39 551.98L325.32 640.46A211.50 211.50 0 0 1 316.35 643.87L284.47 553.85A116.00 116.00 0 0 0 289.39 551.98Z" fill="#d5d68b" stroke="#3a2a2a" stroke-opacity=".7" stroke-width=".3"/>
<path d="M284.47 553.85L316.35 643.87A211.50 211.50 0 0 1 295.48 650.07L273.03 557.25A116.00 116.00 0 0 0 284.47 553.85Z" fill="#ced17d" stroke="#3a2a2a" stroke-opacity=".7" stroke-width=".3"/>
<path d="M284.47 553.85L316.35 643.87A211.50 211.50 0 0 1 295.48 650.07L273.03 557.25A116.00 116.00 0 0 0 284.47 553.85Z" fill="url(#hat)"/>
<path d="M257.37 559.92L259.81 584.09A140.30 140.30 0 0 1 248.93 584.76L248.38 560.47A116.00 116.00 0 0 0 257.37 559.92Z" fill="#bed788" stroke="#3a2a2a" stroke-opacity=".7" stroke-width=".3"/>
<path d="M245.75 584.80L245.75 607.50A163.00 163.00 0 0 1 82.82 439.66L105.51 440.34A140.30 140.30 0 0 0 245.75 584.80Z" fill="#d7989d" stroke="#3a2a2a" stroke-opacity=".7" stroke-width=".3"/>
<path d="M105.51 440.34L34.34 438.23A211.50 211.50 0 0 1 34.42 436.01L105.56 438.87A140.30 140.30 0 0 0 105.51 440.34Z" fill="#d08b86" stroke="#3a2a2a" stroke-opacity=".7" stroke-width=".3"/>
<path d="M105.51 440.34L34.34 438.23A211.50 211.50 0 0 1 34.42 436.01L105.56 438.87A140.30 140.30 0 0 0 105.51 440.34Z" fill="url(#hat)"/>
<path d="M105.56 438.87L82.88 437.96A163.00 163.00 0 0 1 84.34 421.81L106.82 424.97A140.30 140.30 0 0 0 105.56 438.87Z" fill="#d79c98" stroke="#3a2a2a" stroke-opacity=".7" stroke-width=".3"/>
<path d="M106.82 424.97L36.31 415.06A211.50 211.50 0 0 1 38.46 402.51L108.24 416.65A140.30 140.30 0 0 0 106.82 424.97Z" fill="#d08b86" stroke="#3a2a2a" stroke-opacity=".7" stroke-width=".3"/>
<path d="M106.82 424.97L36.31 415.06A211.50 211.50 0 0 1 38.46 402.51L108.24 416.65A140.30 140.30 0 0 0 106.82 424.97Z" fill="url(#hat)"/>
<path d="M108.24 416.65L38.46 402.51A211.50 211.50 0 0 1 42.55 385.85L110.95 405.59A140.30 140.30 0 0 0 108.24 416.65Z" fill="#d08c86" stroke="#3a2a2a" stroke-opacity=".7" stroke-width=".3"/>
<path d="M108.24 416.65L38.46 402.51A211.50 211.50 0 0 1 42.55 385.85L110.95 405.59A140.30 140.30 0 0 0 108.24 416.65Z" fill="url(#hat)"/>
<path d="M110.95 405.59L89.14 399.30A163.00 163.00 0 0 1 94.41 383.97L115.48 392.40A140.30 140.30 0 0 0 110.95 405.59Z" fill="#d79e98" stroke="#3a2a2a" stroke-opacity=".7" stroke-width=".3"/>
<path d="M127.42 369.12L108.28 356.92A163.00 163.00 0 0 1 152.02 311.14L165.08 329.71A140.30 140.30 0 0 0 127.42 369.12Z" fill="#d79f98" stroke="#3a2a2a" stroke-opacity=".7" stroke-width=".3"/>
<path d="M165.08 329.71L152.02 311.14A163.00 163.00 0 0 1 185.48 293.05L193.87 314.14A140.30 140.30 0 0 0 165.08 329.71Z" fill="#d7a198" stroke="#3a2a2a" stroke-opacity=".7" stroke-width=".3"/>
<path d="M193.87 314.14L185.48 293.05A163.00 163.00 0 0 1 198.37 288.54L204.96 310.26A140.30 140.30 0 0 0 193.87 314.14Z" fill="#d7a298" stroke="#3a2a2a" stroke-opacity=".7" stroke-width=".3"/>
<path d="M204.96 310.26L184.27 242.13A211.50 211.50 0 0 1 227.32 233.80L233.52 304.73A140.30 140.30 0 0 0 204.96 310.26Z" fill="#d09286" stroke="#3a2a2a" stroke-opacity=".7" stroke-width=".3"/>
<path d="M204.96 310.26L184.27 242.13A211.50 211.50 0 0 1 227.32 233.80L233.52 304.73A140.30 140.30 0 0 0 204.96 310.26Z" fill="url(#hat)"/>
<path d="M245.75 304.20L245.75 233.00A211.50 211.50 0 0 1 329.41 250.25L301.25 315.64A140.30 140.30 0 0 0 245.75 304.20Z" fill="#d7a598" stroke="#3a2a2a" stroke-opacity=".7" stroke-width=".3"/>
<path d="M301.25 315.64L310.22 294.79A163.00 163.00 0 0 1 336.19 308.89L323.59 327.78A140.30 140.30 0 0 0 301.25 315.64Z" fill="#d7a798" stroke="#3a2a2a" stroke-opacity=".7" stroke-width=".3"/>
<path d="M323.59 327.78L336.19 308.89A163.00 163.00 0 0 1 347.58 317.22L333.40 334.94A140.30 140.30 0 0 0 323.59 327.78Z" fill="#d7a898" stroke="#3a2a2a" stroke-opacity=".7" stroke-width=".3"/>
<path d="M333.40 334.94L377.87 279.35A211.50 211.50 0 0 1 384.78 285.12L337.98 338.78A140.30 140.30 0 0 0 333.40 334.94Z" fill="#d09986" stroke="#3a2a2a" stroke-opacity=".7" stroke-width=".3"/>
<path d="M333.40 334.94L377.87 279.35A211.50 211.50 0 0 1 384.78 285.12L337.98 338.78A140.30 140.30 0 0 0 333.40 334.94Z" fill="url(#hat)"/>
<path d="M337.98 338.78L352.90 321.67A163.00 163.00 0 0 1 359.94 328.18L344.04 344.38A140.30 140.30 0 0 0 337.98 338.78Z" fill="#d7a898" stroke="#3a2a2a" stroke-opacity=".7" stroke-width=".3"/>
<path d="M344.04 344.38L393.91 293.57A211.50 211.50 0 0 1 404.03 304.22L350.75 351.44A140.30 140.30 0 0 0 344.04 344.38Z" fill="#d09986" stroke="#3a2a2a" stroke-opacity=".7" stroke-width=".3"/>
<path d="M344.04 344.38L393.91 293.57A211.50 211.50 0 0 1 404.03 304.22L350.75 351.44A140.30 140.30 0 0 0 344.04 344.38Z" fill="url(#hat)"/>
<path d="M362.06 366.05L421.09 326.23A211.50 211.50 0 0 1 431.09 342.61L368.70 376.91A140.30 140.30 0 0 0 362.06 366.05Z" fill="#d09b86" stroke="#3a2a2a" stroke-opacity=".7" stroke-width=".3"/>
<path d="M362.06 366.05L421.09 326.23A211.50 211.50 0 0 1 431.09 342.61L368.70 376.91A140.30 140.30 0 0 0 362.06 366.05Z" fill="url(#hat)"/>
<path d="M368.70 376.91L388.59 365.97A163.00 163.00 0 0 1 392.75 374.07L372.28 383.88A140.30 140.30 0 0 0 368.70 376.91Z" fill="#d7aa98" stroke="#3a2a2a" stroke-opacity=".7" stroke-width=".3"/>
<path d="M372.28 383.88L436.49 353.11A211.50 211.50 0 0 1 441.15 363.56L375.37 390.81A140.30 140.30 0 0 0 372.28 383.88Z" fill="#d09c86" stroke="#3a2a2a" stroke-opacity=".7" stroke-width=".3"/>
<path d="M372.28 383.88L436.49 353.11A211.50 211.50 0 0 1 441.15 363.56L375.37 390.81A140.30 140.30 0 0 0 372.28 383.88Z" fill="url(#hat)"/>
<path d="M375.37 390.81L441.15 363.56A211.50 211.50 0 0 1 453.08 402.70L383.28 416.77A140.30 140.30 0 0 0 375.37 390.81Z" fill="#d09c86" stroke="#3a2a2a" stroke-opacity=".7" stroke-width=".3"/>
<path d="M375.37 390.81L441.15 363.56A211.50 211.50 0 0 1 453.08 402.70L383.28 416.77A140.30 140.30 0 0 0 375.37 390.81Z" fill="url(#hat)"/>
<path d="M383.28 416.77L405.53 412.28A163.00 163.00 0 0 1 407.39 423.51L384.88 426.43A140.30 140.30 0 0 0 383.28 416.77Z" fill="#d7ac98" stroke="#3a2a2a" stroke-opacity=".7" stroke-width=".3"/>
<path d="M384.88 426.43L407.39 423.51A163.00 163.00 0 0 1 408.15 430.58L385.54 432.52A140.30 140.30 0 0 0 384.88 426.43Z" fill="#d7ac98" stroke="#3a2a2a" stroke-opacity=".7" stroke-width=".3"/>
<path d="M386.05 444.50L408.75 444.50A163.00 163.00 0 0 1 407.64 463.52L385.09 460.87A140.30 140.30 0 0 0 386.05 444.50Z" fill="#d7ad98" stroke="#3a2a2a" stroke-opacity=".7" stroke-width=".3"/>
<path d="M385.09 460.87L455.81 469.18A211.50 211.50 0 0 1 454.65 477.59L384.32 466.45A140.30 140.30 0 0 0 385.09 460.87Z" fill="#d09f86" stroke="#3a2a2a" stroke-opacity=".7" stroke-width=".3"/>
<path d="M385.09 460.87L455.81 469.18A211.50 211.50 0 0 1 454.65 477.59L384.32 466.45A140.30 140.30 0 0 0 385.09 460.87Z" fill="url(#hat)"/>
<path d="M384.32 466.45L454.65 477.59A211.50 211.50 0 0 1 453.64 483.41L383.66 470.31A140.30 140.30 0 0 0 384.32 466.45Z" fill="#d09f86" stroke="#3a2a2a" stroke-opacity=".7" stroke-width=".3"/>
<path d="M384.32 466.45L454.65 477.59A211.50 211.50 0 0 1 453.64 483.41L383.66 470.31A140.30 140.30 0 0 0 384.32 466.45Z" fill="url(#hat)"/>
<path d="M383.66 470.31L453.64 483.41A211.50 211.50 0 0 1 452.70 488.11L383.03 473.43A140.30 140.30 0 0 0 383.66 470.31Z" fill="#d0a086" stroke="#3a2a2a" stroke-opacity=".7" stroke-width=".3"/>
<path d="M383.66 470.31L453.64 483.41A211.50 211.50 0 0 1 452.70 488.11L383.03 473.43A140.30 140.30 0 0 0 383.66 470.31Z" fill="url(#hat)"/>
<path d="M369.16 511.23L389.13 522.03A163.00 163.00 0 0 1 365.54 555.04L348.86 539.65A140.30 140.30 0 0 0 369.16 511.23Z" fill="#d9c498" stroke="#3a2a2a" stroke-opacity=".7" stroke-width=".3"/>
<path d="M348.86 539.65L365.54 555.04A163.00 163.00 0 0 1 357.95 562.74L342.33 546.27A140.30 140.30 0 0 0 348.86 539.65Z" fill="#d9cc98" stroke="#3a2a2a" stroke-opacity=".7" stroke-width=".3"/>
<path d="M342.33 546.27L391.34 597.92A211.50 211.50 0 0 1 384.51 604.12L337.80 550.39A140.30 140.30 0 0 0 342.33 546.27Z" fill="#d5c98d" stroke="#3a2a2a" stroke-opacity=".7" stroke-width=".3"/>
<path d="M342.33 546.27L391.34 597.92A211.50 211.50 0 0 1 384.51 604.12L337.80 550.39A140.30 140.30 0 0 0 342.33 546.27Z" fill="url(#hat)"/>
<path d="M335.56 552.29L350.09 569.73A163.00 163.00 0 0 1 338.78 578.35L325.82 559.71A140.30 140.30 0 0 0 335.56 552.29Z" fill="#d9d098" stroke="#3a2a2a" stroke-opacity=".7" stroke-width=".3"/>
<path d="M325.82 559.71L338.78 578.35A163.00 163.00 0 0 1 331.89 582.88L319.89 563.61A140.30 140.30 0 0 0 325.82 559.71Z" fill="#d9d398" stroke="#3a2a2a" stroke-opacity=".7" stroke-width=".3"/>
<path d="M319.89 563.61L357.51 624.06A211.50 211.50 0 0 1 346.67 630.37L312.70 567.80A140.30 140.30 0 0 0 319.89 563.61Z" fill="#d5d08d" stroke="#3a2a2a" stroke-opacity=".7" stroke-width=".3"/>
<path d="M319.89 563.61L357.51 624.06A211.50 211.50 0 0 1 346.67 630.37L312.70 567.80A140.30 140.30 0 0 0 319.89 563.61Z" fill="url(#hat)"/>
<path d="M259.81 584.09L266.94 654.94A211.50 211.50 0 0 1 250.55 655.95L248.93 584.76A140.30 140.30 0 0 0 259.81 584.09Z" fill="#c4da95" stroke="#3a2a2a" stroke-opacity=".7" stroke-width=".3"/>
<path d="M245.75 607.50L245.75 656.00A211.50 211.50 0 0 1 59.70 545.09L102.37 522.03A163.00 163.00 0 0 0 245.75 607.50Z" fill="#dba5a9" stroke="#3a2a2a" stroke-opacity=".7" stroke-width=".3"/>
<path d="M102.37 522.03L59.70 545.09A211.50 211.50 0 0 1 34.34 438.23L82.82 439.66A163.00 163.00 0 0 0 102.37 522.03Z" fill="#dba6a5" stroke="#3a2a2a" stroke-opacity=".7" stroke-width=".3"/>
<path d="M82.88 437.96L34.42 436.01A211.50 211.50 0 0 1 35.05 426.07L83.37 430.29A163.00 163.00 0 0 0 82.88 437.96Z" fill="#dba8a5" stroke="#3a2a2a" stroke-opacity=".7" stroke-width=".3"/>
<path d="M83.37 430.29L35.05 426.07A211.50 211.50 0 0 1 36.31 415.06L84.34 421.81A163.00 163.00 0 0 0 83.37 430.29Z" fill="#d9a6a2" stroke="#3a2a2a" stroke-opacity=".7" stroke-width=".3"/>
<path d="M83.37 430.29L35.05 426.07A211.50 211.50 0 0 1 36.31 415.06L84.34 421.81A163.00 163.00 0 0 0 83.37 430.29Z" fill="url(#hat)"/>
<path d="M89.14 399.30L42.55 385.85A211.50 211.50 0 0 1 45.53 376.34L91.45 391.97A163.00 163.00 0 0 0 89.14 399.30Z" fill="#dba9a5" stroke="#3a2a2a" stroke-opacity=".7" stroke-width=".3"/>
<path d="M91.45 391.97L45.53 376.34A211.50 211.50 0 0 1 49.38 365.96L94.41 383.97A163.00 163.00 0 0 0 91.45 391.97Z" fill="#d9a7a2" stroke="#3a2a2a" stroke-opacity=".7" stroke-width=".3"/>
<path d="M91.45 391.97L45.53 376.34A211.50 211.50 0 0 1 49.38 365.96L94.41 383.97A163.00 163.00 0 0 0 91.45 391.97Z" fill="url(#hat)"/>
<path d="M108.28 356.92L67.37 330.86A211.50 211.50 0 0 1 117.29 276.48L146.75 315.01A163.00 163.00 0 0 0 108.28 356.92Z" fill="#dbaba5" stroke="#3a2a2a" stroke-opacity=".7" stroke-width=".3"/>
<path d="M146.75 315.01L117.29 276.48A211.50 211.50 0 0 1 124.14 271.46L152.02 311.14A163.00 163.00 0 0 0 146.75 315.01Z" fill="#d9aaa2" stroke="#3a2a2a" stroke-opacity=".7" stroke-width=".3"/>
<path d="M146.75 315.01L117.29 276.48A211.50 211.50 0 0 1 124.14 271.46L152.02 311.14A163.00 163.00 0 0 0 146.75 315.01Z" fill="url(#hat)"/>
<path d="M152.02 311.14L124.14 271.46A211.50 211.50 0 0 1 145.16 258.45L168.22 301.12A163.00 163.00 0 0 0 152.02 311.14Z" fill="#dbada5" stroke="#3a2a2a" stroke-opacity=".7" stroke-width=".3"/>
<path d="M168.22 301.12L145.16 258.45A211.50 211.50 0 0 1 167.55 247.99L185.48 293.05A163.00 163.00 0 0 0 168.22 301.12Z" fill="#dbada5" stroke="#3a2a2a" stroke-opacity=".7" stroke-width=".3"/>
<path d="M185.48 293.05L167.55 247.99A211.50 211.50 0 0 1 173.07 245.88L189.73 291.43A163.00 163.00 0 0 0 185.48 293.05Z" fill="#d9aba2" stroke="#3a2a2a" stroke-opacity=".7" stroke-width=".3"/>
<path d="M185.48 293.05L167.55 247.99A211.50 211.50 0 0 1 173.07 245.88L189.73 291.43A163.00 163.00 0 0 0 185.48 293.05Z" fill="url(#hat)"/>
<path d="M189.73 291.43L173.07 245.88A211.50 211.50 0 0 1 184.27 242.13L198.37 288.54A163.00 163.00 0 0 0 189.73 291.43Z" fill="#dbaea5" stroke="#3a2a2a" stroke-opacity=".7" stroke-width=".3"/>
<path d="M310.22 294.79L329.41 250.25A211.50 211.50 0 0 1 355.31 263.59L330.19 305.08A163.00 163.00 0 0 0 310.22 294.79Z" fill="#dbb1a5" stroke="#3a2a2a" stroke-opacity=".7" stroke-width=".3"/>
<path d="M330.19 305.08L355.31 263.59A211.50 211.50 0 0 1 363.10 268.54L336.19 308.89A163.00 163.00 0 0 0 330.19 305.08Z" fill="#d9afa2" stroke="#3a2a2a" stroke-opacity=".7" stroke-width=".3"/>
<path d="M330.19 305.08L355.31 263.59A211.50 211.50 0 0 1 363.10 268.54L336.19 308.89A163.00 163.00 0 0 0 330.19 305.08Z" fill="url(#hat)"/>
<path d="M336.19 308.89L363.10 268.54A211.50 211.50 0 0 1 372.74 275.37L343.62 314.15A163.00 163.00 0 0 0 336.19 308.89Z" fill="#dbb2a5" stroke="#3a2a2a" stroke-opacity=".7" stroke-width=".3"/>
<path d="M343.62 314.15L372.74 275.37A211.50 211.50 0 0 1 377.87 279.35L347.58 317.22A163.00 163.00 0 0 0 343.62 314.15Z" fill="#d9b0a2" stroke="#3a2a2a" stroke-opacity=".7" stroke-width=".3"/>
<path d="M343.62 314.15L372.74 275.37A211.50 211.50 0 0 1 377.87 279.35L347.58 317.22A163.00 163.00 0 0 0 343.62 314.15Z" fill="url(#hat)"/>
<path d="M352.90 321.67L384.78 285.12A211.50 211.50 0 0 1 393.91 293.57L359.94 328.18A163.00 163.00 0 0 0 352.90 321.67Z" fill="#dbb3a5" stroke="#3a2a2a" stroke-opacity=".7" stroke-width=".3"/>
<path d="M388.59 365.97L431.09 342.61A211.50 211.50 0 0 1 434.86 349.80L391.50 371.52A163.00 163.00 0 0 0 388.59 365.97Z" fill="#dbb4a5" stroke="#3a2a2a" stroke-opacity=".7" stroke-width=".3"/>
<path d="M391.50 371.52L434.86 349.80A211.50 211.50 0 0 1 436.49 353.11L392.75 374.07A163.00 163.00 0 0 0 391.50 371.52Z" fill="#d9b2a2" stroke="#3a2a2a" stroke-opacity=".7" stroke-width=".3"/>
<path d="M391.50 371.52L434.86 349.80A211.50 211.50 0 0 1 436.49 353.11L392.75 374.07A163.00 163.00 0 0 0 391.50 371.52Z" fill="url(#hat)"/>
<path d="M405.53 412.28L453.08 402.70A211.50 211.50 0 0 1 454.87 412.87L406.92 420.13A163.00 163.00 0 0 0 405.53 412.28Z" fill="#dbb6a5" stroke="#3a2a2a" stroke-opacity=".7" stroke-width=".3"/>
<path d="M406.92 420.13L454.87 412.87A211.50 211.50 0 0 1 455.49 417.26L407.39 423.51A163.00 163.00 0 0 0 406.92 420.13Z" fill="#d9b4a2" stroke="#3a2a2a" stroke-opacity=".7" stroke-width=".3"/>
<path d="M406.92 420.13L454.87 412.87A211.50 211.50 0 0 1 455.49 417.26L407.39 423.51A163.00 163.00 0 0 0 406.92 420.13Z" fill="url(#hat)"/>
<path d="M407.39 423.51L455.49 417.26A211.50 211.50 0 0 1 456.48 426.43L408.15 430.58A163.00 163.00 0 0 0 407.39 423.51Z" fill="#dbb6a5" stroke="#3a2a2a" stroke-opacity=".7" stroke-width=".3"/>
<path d="M408.75 444.50L457.25 444.50A211.50 211.50 0 0 1 456.63 460.73L408.27 457.01A163.00 163.00 0 0 0 408.75 444.50Z" fill="#dbb7a5" stroke="#3a2a2a" stroke-opacity=".7" stroke-width=".3"/>
<path d="M408.27 457.01L456.63 460.73A211.50 211.50 0 0 1 455.81 469.18L407.64 463.52A163.00 163.00 0 0 0 408.27 457.01Z" fill="#d9b5a2" stroke="#3a2a2a" stroke-opacity=".7" stroke-width=".3"/>
<path d="M408.27 457.01L456.63 460.73A211.50 211.50 0 0 1 455.81 469.18L407.64 463.52A163.00 163.00 0 0 0 408.27 457.01Z" fill="url(#hat)"/>
<path d="M389.13 522.03L431.80 545.09A211.50 211.50 0 0 1 401.18 587.93L365.54 555.04A163.00 163.00 0 0 0 389.13 522.03Z" fill="#ddcaa5" stroke="#3a2a2a" stroke-opacity=".7" stroke-width=".3"/>
<path d="M365.54 555.04L401.18 587.93A211.50 211.50 0 0 1 393.99 595.35L360.00 560.76A163.00 163.00 0 0 0 365.54 555.04Z" fill="#ddd1a5" stroke="#3a2a2a" stroke-opacity=".7" stroke-width=".3"/>
<path d="M360.00 560.76L393.99 595.35A211.50 211.50 0 0 1 391.34 597.92L357.95 562.74A163.00 163.00 0 0 0 360.00 560.76Z" fill="#dcd2a3" stroke="#3a2a2a" stroke-opacity=".7" stroke-width=".3"/>
<path d="M360.00 560.76L393.99 595.35A211.50 211.50 0 0 1 391.34 597.92L357.95 562.74A163.00 163.00 0 0 0 360.00 560.76Z" fill="url(#hat)"/>
<path d="M350.09 569.73L381.13 606.99A211.50 211.50 0 0 1 371.85 614.30L342.93 575.36A163.00 163.00 0 0 0 350.09 569.73Z" fill="#ddd5a5" stroke="#3a2a2a" stroke-opacity=".7" stroke-width=".3"/>
<path d="M342.93 575.36L371.85 614.30A211.50 211.50 0 0 1 366.46 618.17L338.78 578.35A163.00 163.00 0 0 0 342.93 575.36Z" fill="#dcd6a3" stroke="#3a2a2a" stroke-opacity=".7" stroke-width=".3"/>
<path d="M342.93 575.36L371.85 614.30A211.50 211.50 0 0 1 366.46 618.17L338.78 578.35A163.00 163.00 0 0 0 342.93 575.36Z" fill="url(#hat)"/>
<path d="M338.78 578.35L366.46 618.17A211.50 211.50 0 0 1 357.51 624.06L331.89 582.88A163.00 163.00 0 0 0 338.78 578.35Z" fill="#ddd7a5" stroke="#3a2a2a" stroke-opacity=".7" stroke-width=".3"/>
<path d="M246.84 492.49L250.55 655.95A211.50 211.50 0 0 1 247.78 655.99L246.21 492.50A48.00 48.00 0 0 0 246.84 492.49Z" fill="#5fc45a"/>
<path d="M246.21 492.50L247.78 655.99A211.50 211.50 0 0 1 246.67 656.00L245.96 492.50A48.00 48.00 0 0 0 246.21 492.50Z" fill="#4fae9c"/>
<path d="M245.96 492.50L246.67 656.00A211.50 211.50 0 0 1 245.75 656.00L245.75 492.50A48.00 48.00 0 0 0 245.96 492.50Z" fill="#2b3060"/>
<line x1="245.75" y1="492.50" x2="245.75" y2="656.00" stroke="#1d1f3f" stroke-width=".7"/>
<circle cx="245.75" cy="444.50" r="48.00" fill="#fff" stroke="#3a2a2a" stroke-opacity=".5" stroke-width=".3"/>
<g font-family="'Liberation Sans',Arial,sans-serif" font-size="6.10" fill="#000">
<text x="245.75" y="444.50" text-anchor="middle" font-weight="bold" dy=".35em">Fungi</text>
<text transform="translate(211.24 386.61) rotate(-30.80)" text-anchor="middle" dy=".35em">Ascomycota</text>
<text transform="translate(288.08 508.46) rotate(-33.50)" text-anchor="middle" dy=".35em">Basidiomycota</text>
<text transform="translate(162.70 489.59) rotate(61.50)" text-anchor="middle" dy=".35em">Sordariomycetes</text>
<text transform="translate(194.20 350.74) rotate(-28.80)" text-anchor="middle" dy=".35em">Saccharomycetes</text>
<text transform="translate(290.12 361.06) rotate(28.00)" text-anchor="middle" dy=".35em">Dothideomycetes</text>
<text transform="translate(348.07 413.22) rotate(73.00)" text-anchor="middle" dy=".35em">Leotiomycetes</text>
<text transform="translate(339.05 455.96) rotate(-83.00)" text-anchor="middle" dy=".35em">Eurotiomycetes</text>
<text transform="translate(328.08 512.85) rotate(-50.30)" text-anchor="middle" dy=".35em">Microbotryomycetes</text>
<text transform="translate(294.42 525.50) rotate(-31.00)" text-anchor="middle" dy=".35em">Tremellomycetes</text>
<text transform="translate(278.46 546.38) rotate(-17.80)" text-anchor="middle" dy=".35em">Agaricomycetes</text>
<text transform="translate(156.98 530.22) rotate(46.00)" text-anchor="middle" dy=".35em">Microascales</text>
<text transform="translate(113.85 423.25) rotate(-80.85)" text-anchor="middle" dy=".35em">Hypocreales</text>
<text transform="translate(128.86 404.02) rotate(-70.90)" text-anchor="middle" dy=".35em">Ophiostomatales</text>
<text transform="translate(176.13 330.00) rotate(-31.30)" text-anchor="middle" dy=".35em">Saccharomycetales</text>
<text transform="translate(270.90 323.08) rotate(11.70)" text-anchor="middle" dy=".35em">Cladosporiaceae</text>
<text transform="translate(317.64 331.65) rotate(32.50)" text-anchor="middle" dy=".35em">Mycosphaerellales</text>
<text transform="translate(332.61 356.42) rotate(44.60)" text-anchor="middle" dy=".35em">Pleosporales</text>
<text transform="translate(369.18 393.37) rotate(67.50)" text-anchor="middle" dy=".35em">Helotiales</text>
<text transform="translate(367.32 423.94) rotate(80.40)" text-anchor="middle" dy=".35em">Leotiales</text>
<text transform="translate(379.02 430.49) rotate(84.00)" text-anchor="middle" dy=".35em">Rhyt...tales</text>
<text transform="translate(368.22 453.49) rotate(-85.80)" text-anchor="middle" dy=".35em">Euro...iales</text>
<text transform="translate(376.82 468.79) rotate(-79.50)" text-anchor="middle" dy=".35em">Chaet...iales</text>
<text transform="translate(343.26 520.13) rotate(-52.20)" text-anchor="middle" dy=".35em">Microb... sedis</text>
<text transform="translate(335.56 543.55) rotate(-42.20)" text-anchor="middle" dy=".35em">Sporidiobolales</text>
<text transform="translate(314.52 546.84) rotate(-33.90)" text-anchor="middle" dy=".35em">Tremellales</text>
<text transform="translate(139.29 547.31) rotate(46.00)" text-anchor="middle" dy=".35em">Ceratocystidaceae</text>
<text transform="translate(89.07 430.52) rotate(-84.90)" text-anchor="middle" dy=".35em">Cordycipitaceae</text>
<text transform="translate(106.19 396.45) rotate(-71.00)" text-anchor="middle" dy=".35em">Ophiostomataceae</text>
<text transform="translate(133.17 335.79) rotate(-46.00)" text-anchor="middle" dy=".35em">Debaryomycetaceae</text>
<text transform="translate(178.01 313.81) rotate(-27.40)" text-anchor="middle" dy=".35em">Saccharomyce...certae sedis</text>
<text transform="translate(197.00 295.79) rotate(-18.15)" text-anchor="middle" dy=".35em">Phaffomycetaceae</text>
<text transform="translate(315.69 314.07) rotate(28.20)" text-anchor="middle" dy=".35em">Mycos...aceae</text>
<text transform="translate(337.86 317.73) rotate(36.00)" text-anchor="middle" dy=".35em">Teratosphaeriaceae</text>
<text transform="translate(347.20 336.47) rotate(43.20)" text-anchor="middle" dy=".35em">Pleo...ceae</text>
<text transform="translate(384.68 373.10) rotate(62.80)" text-anchor="middle" dy=".35em">Erysiphaceae</text>
<text transform="translate(390.60 419.48) rotate(80.20)" text-anchor="middle" dy=".35em">Tym...eae</text>
<text transform="translate(401.45 428.68) rotate(84.20)" text-anchor="middle" dy=".35em">Rhytismataceae</text>
<text transform="translate(392.12 455.76) rotate(-85.60)" text-anchor="middle" dy=".35em">Aspe...ceae</text>
<text transform="translate(373.16 535.38) rotate(-54.50)" text-anchor="middle" dy=".35em">Colaco...eaceae</text>
<text transform="translate(350.85 548.14) rotate(-45.40)" text-anchor="middle" dy=".35em">Micr...edis</text>
<text transform="translate(340.43 569.24) rotate(-37.20)" text-anchor="middle" dy=".35em">Bulleri...diaceae</text>
<text transform="translate(326.03 568.60) rotate(-32.90)" text-anchor="middle" dy=".35em">Rhy...eae</text>
<text x="248.80" y="501.00" text-anchor="middle" dy=".35em">Mortierellomycota</text>
<text x="249.50" y="538.60" text-anchor="middle" dy=".35em">Mortierellales</text>
<text x="250.00" y="578.20" text-anchor="middle" dy=".35em">Mortierellaceae</text>
<line x1="249.2" y1="504.5" x2="249.2" y2="509.5" stroke="#000" stroke-width=".3"/>
<text transform="translate(149.87 605.34) rotate(-59.20)" text-anchor="end" dy=".35em">Phialophoropsis   17%</text>
<text transform="translate(63.60 487.89) rotate(-13.40)" text-anchor="end" dy=".35em">Ambrosiella   8%</text>
<text transform="translate(58.87 432.74) rotate(3.60)" text-anchor="end" dy=".35em">Beauveria   0.8%</text>
<text transform="translate(72.36 414.86) rotate(9.70)" text-anchor="end" dy=".35em">Bionectriaceae   0.9%</text>
<text transform="translate(67.12 388.35) rotate(17.45)" text-anchor="end" dy=".35em">Ophiostoma   0.7%</text>
<text transform="translate(95.93 378.42) rotate(23.80)" text-anchor="end" dy=".35em">Xylariales   1%</text>
<text transform="translate(99.98 369.90) rotate(27.10)" text-anchor="end" dy=".35em">Diaporthales   0.8%</text>
<text transform="translate(107.92 317.75) rotate(42.60)" text-anchor="end" dy=".35em">Yamadazyma   5%</text>
<text transform="translate(147.22 285.27) rotate(58.25)" text-anchor="end" dy=".35em">Peterozyma   2%</text>
<text transform="translate(166.47 274.86) rotate(64.95)" text-anchor="end" dy=".35em">Candida   2%</text>
<text transform="translate(186.33 266.93) rotate(71.50)" text-anchor="end" dy=".35em">Cyberlindnera   0.7%</text>
<text transform="translate(281.27 272.22) rotate(-78.35)" text-anchor="start" dy=".35em">6%   Cladosporium</text>
<text transform="translate(331.49 278.03) rotate(-62.75)" text-anchor="start" dy=".35em">2%   Ramularia</text>
<text transform="translate(352.88 290.93) rotate(-55.10)" text-anchor="start" dy=".35em">0.9%   Acrodontium</text>
<text transform="translate(372.98 307.11) rotate(-47.20)" text-anchor="start" dy=".35em">0.9%   Alternaria</text>
<text transform="translate(395.97 352.99) rotate(-31.35)" text-anchor="start" dy=".35em">1%   Pezizellaceae</text>
<text transform="translate(411.54 357.46) rotate(-27.70)" text-anchor="start" dy=".35em">0.8%   Blumeria</text>
<text transform="translate(406.51 373.10) rotate(-23.95)" text-anchor="start" dy=".35em">0.9%   Helotiales fam</text>
<text transform="translate(430.16 411.98) rotate(-10.00)" text-anchor="start" dy=".35em">0.8%   Capturomyces</text>
<text transform="translate(431.90 424.28) rotate(-6.20)" text-anchor="start" dy=".35em">0.6%   Lophodermium</text>
<text transform="translate(432.86 451.69) rotate(2.20)" text-anchor="start" dy=".35em">2%   Penicillium</text>
<text transform="translate(418.87 475.65) rotate(10.20)" text-anchor="start" dy=".35em">0.8%   Herpotrichiellaceae</text>
<text transform="translate(387.48 487.97) rotate(17.05)" text-anchor="start" dy=".35em">2%   Ascomycota_pseudo_genus_0255</text>
<text transform="translate(398.10 553.37) rotate(35.55)" text-anchor="start" dy=".35em">4%   Colacogloea</text>
<text transform="translate(380.11 574.93) rotate(44.15)" text-anchor="start" dy=".35em">0.8%   Curvibasidium</text>
<text transform="translate(363.91 574.81) rotate(47.80)" text-anchor="start" dy=".35em">0.7%   Sporidiobolaceae</text>
<text transform="translate(361.55 591.65) rotate(51.80)" text-anchor="start" dy=".35em">0.9%   Vishniacozyma</text>
<text transform="translate(348.69 600.92) rotate(56.65)" text-anchor="start" dy=".35em">0.8%   Rhynchogastrema</text>
<text transform="translate(319.20 590.85) rotate(63.35)" text-anchor="start" dy=".35em">1%   Cystofilobasidiales</text>
<text transform="translate(303.90 597.58) rotate(69.20)" text-anchor="start" dy=".35em">0.7%   Phallus</text>
<text transform="translate(258.33 619.95) rotate(85.90)" text-anchor="start" dy=".35em">1%   Mortierella</text>
<line x1="39.78" y1="421.03" x2="32.13" y2="420.16" stroke="#222" stroke-width=".35"/>
<text transform="translate(29.95 419.91) rotate(6.50)" text-anchor="end" dy=".35em">8 more</text>
<line x1="44.43" y1="395.05" x2="36.96" y2="393.22" stroke="#222" stroke-width=".35"/>
<text transform="translate(34.82 392.69) rotate(13.80)" text-anchor="end" dy=".35em">99 more</text>
<line x1="51.33" y1="372.58" x2="44.10" y2="369.91" stroke="#222" stroke-width=".35"/>
<text transform="translate(42.04 369.15) rotate(20.30)" text-anchor="end" dy=".35em">8 more</text>
<line x1="67.13" y1="339.29" x2="60.50" y2="335.38" stroke="#222" stroke-width=".35"/>
<text transform="translate(58.60 334.26) rotate(30.50)" text-anchor="end" dy=".35em">68 more</text>
<line x1="123.46" y1="277.11" x2="118.92" y2="270.89" stroke="#222" stroke-width=".35"/>
<text transform="translate(117.62 269.12) rotate(53.85)" text-anchor="end" dy=".35em">19 more</text>
<line x1="171.80" y1="250.84" x2="169.05" y2="243.65" stroke="#222" stroke-width=".35"/>
<text transform="translate(168.27 241.59) rotate(69.10)" text-anchor="end" dy=".35em">3 more</text>
<line x1="206.37" y1="240.97" x2="204.91" y2="233.41" stroke="#222" stroke-width=".35"/>
<text transform="translate(204.49 231.25) rotate(79.05)" text-anchor="end" dy=".35em">27 more</text>
<line x1="236.71" y1="237.40" x2="236.37" y2="229.70" stroke="#222" stroke-width=".35"/>
<text transform="translate(236.28 227.51) rotate(87.50)" text-anchor="end" dy=".35em">28 more</text>
<line x1="356.98" y1="269.57" x2="361.11" y2="263.07" stroke="#222" stroke-width=".35"/>
<text transform="translate(362.29 261.21) rotate(-57.55)" text-anchor="start" dy=".35em">23 more</text>
<line x1="372.75" y1="280.66" x2="377.47" y2="274.57" stroke="#222" stroke-width=".35"/>
<text transform="translate(378.81 272.83) rotate(-52.22)" text-anchor="start" dy=".35em">32 more</text>
<line x1="378.72" y1="285.47" x2="383.66" y2="279.56" stroke="#222" stroke-width=".35"/>
<text transform="translate(385.07 277.87) rotate(-50.10)" text-anchor="start" dy=".35em">5 more</text>
<line x1="396.02" y1="301.70" x2="401.60" y2="296.39" stroke="#222" stroke-width=".35"/>
<text transform="translate(403.20 294.88) rotate(-43.54)" text-anchor="start" dy=".35em">55 more</text>
<line x1="409.55" y1="317.44" x2="415.63" y2="312.72" stroke="#222" stroke-width=".35"/>
<text transform="translate(417.37 311.38) rotate(-37.80)" text-anchor="start" dy=".35em">140 more</text>
<line x1="444.10" y1="384.24" x2="451.46" y2="382.00" stroke="#222" stroke-width=".35"/>
<text transform="translate(453.57 381.36) rotate(-16.90)" text-anchor="start" dy=".35em">138 more</text>
<line x1="452.86" y1="435.64" x2="460.55" y2="435.31" stroke="#222" stroke-width=".35"/>
<text transform="translate(462.75 435.22) rotate(-2.45)" text-anchor="start" dy=".35em">86 more</text>
<line x1="451.11" y1="472.81" x2="458.74" y2="473.86" stroke="#222" stroke-width=".35"/>
<text transform="translate(460.91 474.17) rotate(7.85)" text-anchor="start" dy=".35em">6 more</text>
<line x1="434.91" y1="529.31" x2="441.93" y2="532.46" stroke="#222" stroke-width=".35"/>
<text transform="translate(443.94 533.36) rotate(24.15)" text-anchor="start" dy=".35em">172 more</text>
<line x1="348.62" y1="624.48" x2="352.44" y2="631.16" stroke="#222" stroke-width=".35"/>
<text transform="translate(353.53 633.07) rotate(60.25)" text-anchor="start" dy=".35em">52 more</text>
<line x1="328.24" y1="634.68" x2="331.31" y2="641.74" stroke="#222" stroke-width=".35"/>
<text transform="translate(332.18 643.76) rotate(66.55)" text-anchor="start" dy=".35em">8 more</text>
<line x1="304.80" y1="643.21" x2="306.99" y2="650.59" stroke="#222" stroke-width=".35"/>
<text transform="translate(307.62 652.70) rotate(73.45)" text-anchor="start" dy=".35em">27 more</text>
<line x1="280.68" y1="648.84" x2="281.98" y2="656.43" stroke="#222" stroke-width=".35"/>
<text transform="translate(282.35 658.59) rotate(80.30)" text-anchor="start" dy=".35em">104 more</text>
</g></g>
<rect x="274" y="109" width="23.6" height="16.5" fill="#fff"/>
<g font-family="'Liberation Sans',Arial,sans-serif" font-size="14.6" font-weight="bold" fill="#000">
<text x="0.5" y="12.3">(a)</text><text x="275.4" y="12.9">(b)</text><text x="275.4" y="121.8">(c)</text><text x="0.5" y="258.3">(d)</text>
</g>
</svg></body></html>
